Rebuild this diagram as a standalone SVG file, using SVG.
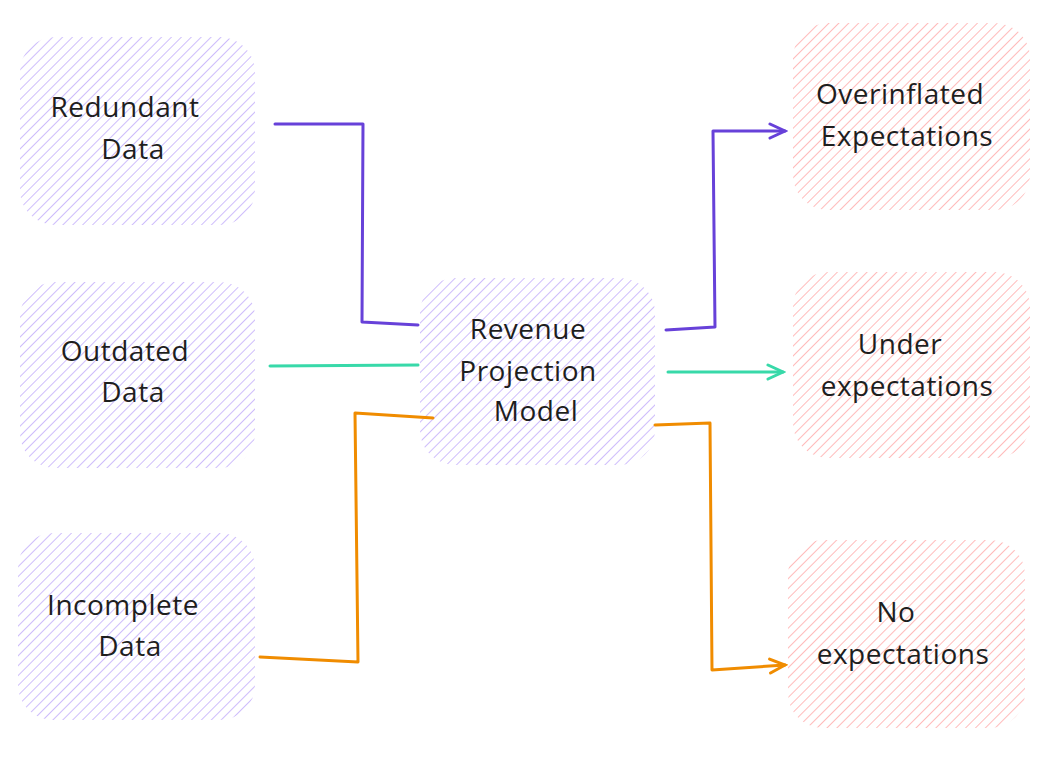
<svg xmlns="http://www.w3.org/2000/svg" width="1042" height="760" viewBox="0 0 1042 760">
<style>
.t{font-family:"Open Sans","DejaVu Sans",sans-serif;font-size:28px;fill:#1e1e1e;text-anchor:middle;letter-spacing:0.5px}
.c{fill:none;stroke-width:3;stroke-linecap:round;stroke-linejoin:round}
</style>
<defs>
<pattern id="hp" width="7" height="7" patternUnits="userSpaceOnUse" patternTransform="rotate(45)">
<line x1="0" y1="0" x2="0" y2="7" stroke="#c9b6fb" stroke-width="1.8"/></pattern>
<pattern id="hr" width="7" height="7" patternUnits="userSpaceOnUse" patternTransform="rotate(45)">
<line x1="0" y1="0" x2="0" y2="7" stroke="#ffb3b3" stroke-width="1.8"/></pattern>
<marker id="a" markerWidth="20" markerHeight="20" refX="17" refY="10" orient="auto" markerUnits="userSpaceOnUse">
<path d="M2,3 L17,10 L2,17" fill="none" stroke="context-stroke" stroke-width="3" stroke-linecap="round"/></marker>
</defs>
<rect width="1042" height="760" fill="#fff"/>
<g id="redundant"><rect x="20" y="37" width="235" height="188" rx="35" fill="url(#hp)"/><text class="t" x="125" y="117">Redundant</text><text class="t" x="133" y="159">Data</text></g>
<g id="outdated"><rect x="20" y="282" width="235" height="186" rx="35" fill="url(#hp)"/><text class="t" x="125" y="361">Outdated</text><text class="t" x="133" y="402">Data</text></g>
<g id="incomplete"><rect x="18" y="533" width="237" height="187" rx="35" fill="url(#hp)"/><text class="t" x="123" y="615">Incomplete</text><text class="t" x="130" y="656">Data</text></g>
<g id="model"><rect x="420" y="278" width="235" height="187" rx="35" fill="url(#hp)"/><text class="t" x="528" y="339">Revenue</text><text class="t" x="528" y="381">Projection</text><text class="t" x="536" y="421">Model</text></g>
<g id="over"><rect x="793" y="23" width="237" height="187" rx="35" fill="url(#hr)"/><text class="t" x="900" y="104">Overinflated</text><text class="t" x="907" y="146">Expectations</text></g>
<g id="under"><rect x="793" y="272" width="237" height="186" rx="35" fill="url(#hr)"/><text class="t" x="900" y="354">Under</text><text class="t" x="907" y="396">expectations</text></g>
<g id="no"><rect x="788" y="540" width="237" height="188" rx="35" fill="url(#hr)"/><text class="t" x="896" y="622">No</text><text class="t" x="903" y="664">expectations</text></g>
<g id="connectors">
<path class="c" stroke="#6741d9" d="M275,124 L363,124 L362,322 L418,325"/>
<path class="c" stroke="#38d9a9" d="M270,366 L418,365"/>
<path class="c" stroke="#f08c00" d="M260,657 L358,662 L355,413 L433,418"/>
<path class="c" stroke="#6741d9" d="M666,330 L715,327 L713,131 L785,131" marker-end="url(#a)"/>
<path class="c" stroke="#38d9a9" d="M668,372 L783,372" marker-end="url(#a)"/>
<path class="c" stroke="#f08c00" d="M655,425 L710,423 L712,670 L785,665" marker-end="url(#a)"/>
</g>
</svg>
